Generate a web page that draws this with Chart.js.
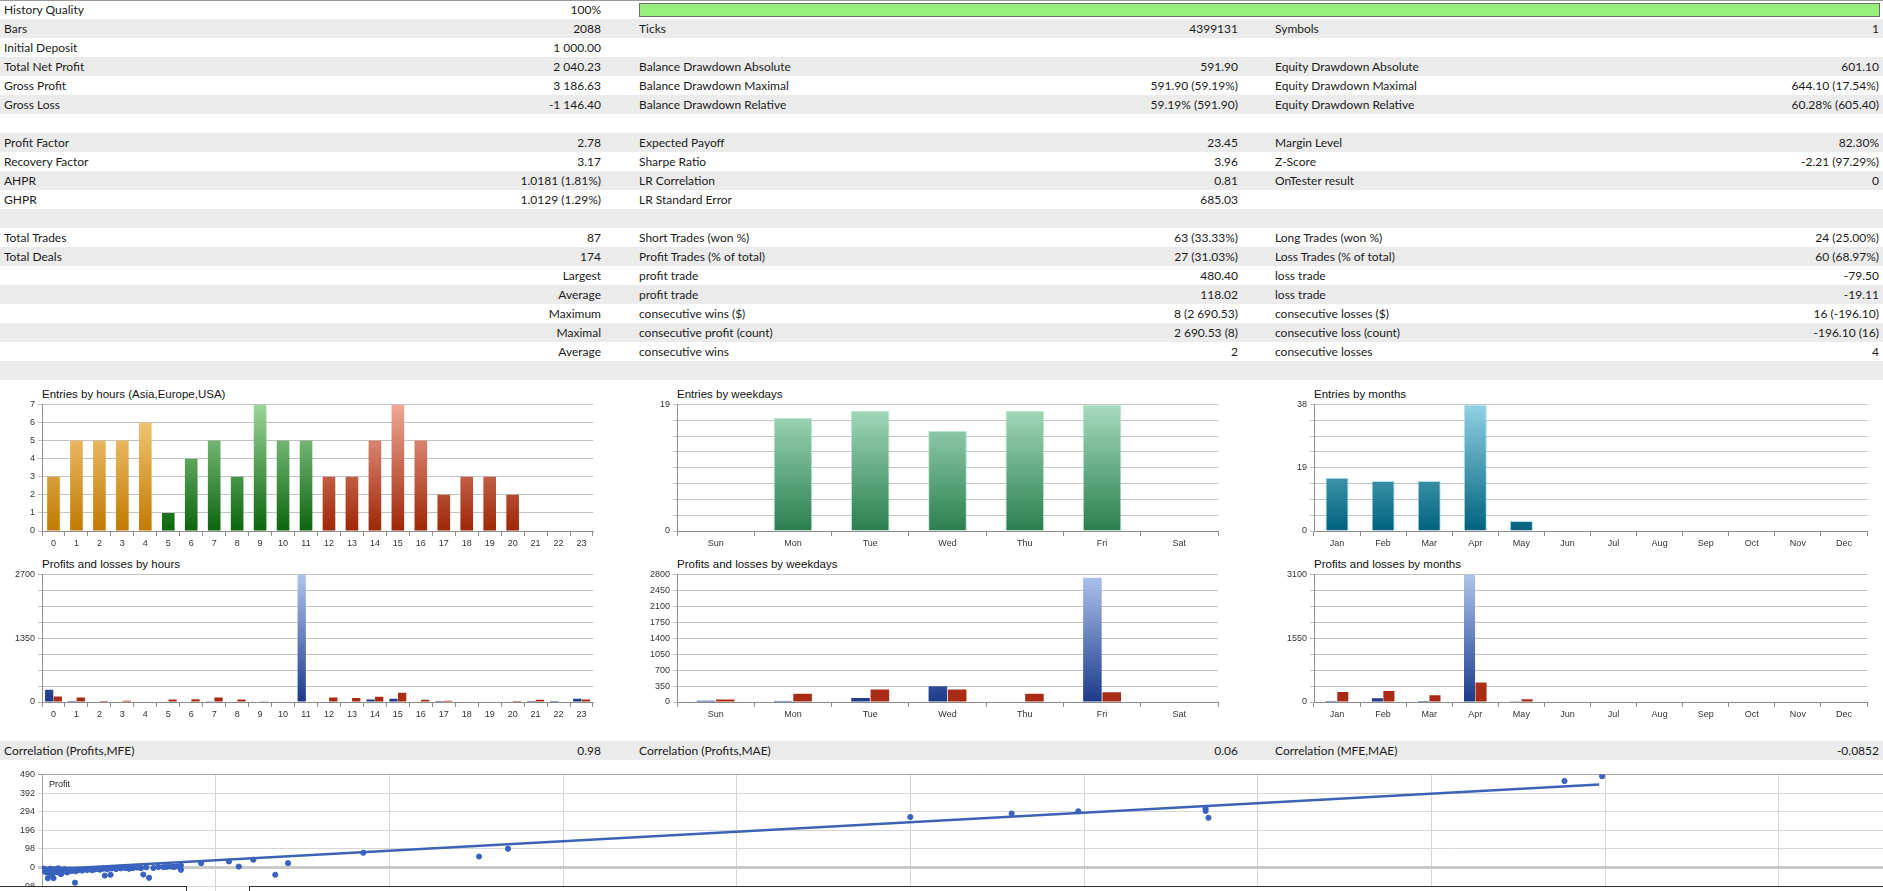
<!DOCTYPE html>
<html>
<head>
<meta charset="utf-8">
<script src="https://cdn.jsdelivr.net/npm/chart.js@4.4.1/dist/chart.umd.min.js"></script>
<style>
  html, body { margin: 0; padding: 0; background: #fff; overflow: hidden; }
  #page { position: relative; width: 1883px; height: 891px; overflow: hidden; font-family: Lato, "Noto Sans", sans-serif; font-size: 12px; color: #1b1b1b; }
  .row { position: absolute; left: 0; width: 1883px; height: 19px; line-height: 19px; }
  .row.alt { background: #ebebeb; }
  .row span { position: absolute; top: 0; white-space: nowrap; }
  .l1 { left: 4px; } .v1 { right: 1282px; text-align: right; }
  .l2 { left: 639px; } .v2 { right: 645px; text-align: right; }
  .l3 { left: 1275px; } .v3 { right: 4px; text-align: right; }
  .box { position: absolute; }
  .title { position: absolute; font-family: "Liberation Sans", Arial, sans-serif; font-size: 11.5px; color: #111; white-space: nowrap; }
  .cover { position: absolute; background: #fff; border: 1px solid #333; }
</style>
</head>
<body>
<div id="page">
  <div style="position:absolute;left:0;top:0;width:1883px;height:1px;background:#9a9a9a;z-index:2"></div>
  <div id="table"></div>

  <div class="title" style="left:42px;top:388px">Entries by hours (Asia,Europe,USA)</div>
  <div class="title" style="left:677px;top:388px">Entries by weekdays</div>
  <div class="title" style="left:1314px;top:388px">Entries by months</div>
  <div class="title" style="left:42px;top:558px">Profits and losses by hours</div>
  <div class="title" style="left:677px;top:558px">Profits and losses by weekdays</div>
  <div class="title" style="left:1314px;top:558px">Profits and losses by months</div>

  <div class="box" id="b1"><canvas id="c1"></canvas></div>
  <div class="box" id="b2"><canvas id="c2"></canvas></div>
  <div class="box" id="b3"><canvas id="c3"></canvas></div>
  <div class="box" id="b4"><canvas id="c4"></canvas></div>
  <div class="box" id="b5"><canvas id="c5"></canvas></div>
  <div class="box" id="b6"><canvas id="c6"></canvas></div>
  <div class="box" id="b7"><canvas id="c7"></canvas></div>
  <div class="title" style="left:49px;top:779px;font-size:9px;color:#222">Profit</div>

  <div class="cover" style="left:-1px;top:886px;width:186px;height:12px"></div>
  <div class="cover" style="left:249px;top:886px;width:1640px;height:12px"></div>
</div>

<script>
// === report text ===
const reportRows = [
  ['History Quality', '100%', '', '', '', ''],
  ['Bars', '2088', 'Ticks', '4399131', 'Symbols', '1'],
  ['Initial Deposit', '1 000.00', '', '', '', ''],
  ['Total Net Profit', '2 040.23', 'Balance Drawdown Absolute', '591.90', 'Equity Drawdown Absolute', '601.10'],
  ['Gross Profit', '3 186.63', 'Balance Drawdown Maximal', '591.90 (59.19%)', 'Equity Drawdown Maximal', '644.10 (17.54%)'],
  ['Gross Loss', '-1 146.40', 'Balance Drawdown Relative', '59.19% (591.90)', 'Equity Drawdown Relative', '60.28% (605.40)'],
  ['', '', '', '', '', ''],
  ['Profit Factor', '2.78', 'Expected Payoff', '23.45', 'Margin Level', '82.30%'],
  ['Recovery Factor', '3.17', 'Sharpe Ratio', '3.96', 'Z-Score', '-2.21 (97.29%)'],
  ['AHPR', '1.0181 (1.81%)', 'LR Correlation', '0.81', 'OnTester result', '0'],
  ['GHPR', '1.0129 (1.29%)', 'LR Standard Error', '685.03', '', ''],
  ['', '', '', '', '', ''],
  ['Total Trades', '87', 'Short Trades (won %)', '63 (33.33%)', 'Long Trades (won %)', '24 (25.00%)'],
  ['Total Deals', '174', 'Profit Trades (% of total)', '27 (31.03%)', 'Loss Trades (% of total)', '60 (68.97%)'],
  ['', 'Largest', 'profit trade', '480.40', 'loss trade', '-79.50'],
  ['', 'Average', 'profit trade', '118.02', 'loss trade', '-19.11'],
  ['', 'Maximum', 'consecutive wins ($)', '8 (2 690.53)', 'consecutive losses ($)', '16 (-196.10)'],
  ['', 'Maximal', 'consecutive profit (count)', '2 690.53 (8)', 'consecutive loss (count)', '-196.10 (16)'],
  ['', 'Average', 'consecutive wins', '2', 'consecutive losses', '4'],
  ['', '', '', '', '', '']
];
const correlationRow = ['Correlation (Profits,MFE)', '0.98', 'Correlation (Profits,MAE)', '0.06', 'Correlation (MFE,MAE)', '-0.0852'];

// === chart data ===
const hours = ['0','1','2','3','4','5','6','7','8','9','10','11','12','13','14','15','16','17','18','19','20','21','22','23'];
const hourEntries = [3, 5, 5, 5, 6, 1, 4, 5, 3, 7, 5, 5, 3, 3, 5, 7, 5, 2, 3, 3, 2, 0, 0, 0];
const hourProfits = [261, 20, 0, 0, 0, 0, 0, 15, 0, 0, 0, 2695, 0, 0, 55, 70, 0, 20, 0, 0, 0, 20, 20, 70];
const hourLosses  = [115, 95, 20, 25, 0, 55, 60, 95, 55, 15, 12, 0, 95, 85, 110, 195, 50, 25, 0, 12, 20, 50, 0, 55];

const weekdays = ['Sun', 'Mon', 'Tue', 'Wed', 'Thu', 'Fri', 'Sat'];
const weekdayEntries = [0, 17, 18, 15, 18, 19, 0];
const weekdayProfits = [30, 20, 90, 345, 10, 2725, 0];
const weekdayLosses  = [55, 180, 275, 275, 180, 215, 0];

const months = ['Jan', 'Feb', 'Mar', 'Apr', 'May', 'Jun', 'Jul', 'Aug', 'Sep', 'Oct', 'Nov', 'Dec'];
const monthEntries = [16, 15, 15, 38, 3, 0, 0, 0, 0, 0, 0, 0];
const monthProfits = [25, 90, 25, 3090, 20, 0, 0, 0, 0, 0, 0, 0];
const monthLosses  = [245, 270, 163, 473, 65, 0, 0, 0, 0, 0, 0, 0];

// axis maxima and labelled ticks
const hourEntryTicks = [0, 1, 2, 3, 4, 5, 6, 7];
const hourPLTicks = [0, 1350, 2700];
const weekdayEntryTicks = [0, 19];
const weekdayPLTicks = [0, 350, 700, 1050, 1400, 1750, 2100, 2450, 2800];
const monthEntryTicks = [0, 19, 38];
const monthPLTicks = [0, 1550, 3100];

// profit vs MFE scatter
const mfeValues = [539, 526, 403, 402, 402, 358, 335, 300, 161, 151, 111, 85, 80.6, 73, 68, 64.6, 55, 48, 48, 37, 35, 23.7, 21.7, 11.4, 4, 2,
  0.4, 0.7, 1.0, 1.3, 1.6, 1.9, 2.3, 2.6, 2.9, 3.2, 3.5, 3.8, 4.2, 4.6, 5.0, 5.3, 5.6, 6.0, 6.3, 6.7, 7.0, 7.4, 7.8, 8.2,
  8.7, 9.1, 9.6, 10.2, 10.8, 11.6, 12.4, 13.1, 13.9, 14.8, 15.6, 16.5, 17.3, 18.2, 19.1, 20.0, 21.2, 22.6, 24.1, 25.6,
  27.2, 28.8, 30.1, 31.5, 33.0, 34.2, 36.0, 38.5, 40.2, 42.0, 43.2, 44.5, 45.6, 46.8, 30.7, 6.5, 3.0];
const profitValues = [480.4, 455, 262, 298, 310, 296, 284, 266, 99, 58, 78, 23, -38, 41, 5, 32, 23, 11, -12, -54, -37, -38, -42, -79.5, -56, -56,
  -5, -14, -22, -9, -18, -27, -11, -20, -6, -24, -15, -30, -9, -19, -13, -25, -4, -17, -10, -31, -14, -21, -8, -12,
  -26, -15, -10, -18, -12, -20, -14, -11, -16, -9, -13, -8, -14, -10, -7, -11, -6, -9, -5, -8,
  -4, -3, -6, -2, 0, -3, 1, -2, 3, 2, 4, 5, 3, 6, -1, -35, -40];
const trendMfe = [0, 538];
const trendProfit = [-12, 437];
const scatterTicks = [-196, -98, 0, 98, 196, 294, 392, 490];

// === table ===
const table = document.getElementById('table');
function addRow(cells, i) {
  const row = document.createElement('div');
  row.className = 'row' + (i % 2 === 1 ? ' alt' : '');
  row.style.top = (19 * i) + 'px';
  ['l1', 'v1', 'l2', 'v2', 'l3', 'v3'].forEach((cls, k) => {
    if (!cells[k]) return;
    const s = document.createElement('span');
    s.className = cls;
    s.textContent = cells[k];
    row.appendChild(s);
  });
  table.appendChild(row);
}
reportRows.forEach(addRow);
addRow(correlationRow, 39);
const q = document.createElement('div');
q.style.cssText = 'position:absolute;left:639px;top:3px;width:1239px;height:12px;background:#97f07c;border:1px solid #6e6e6e';
table.appendChild(q);

// === charts ===
const tickFont = { family: '"Liberation Sans", Arial, sans-serif', size: 9 };
const AXIS_W = 42, PAD_T = 8, PAD_R = 8, XAX_H = 22;

function place(boxId, x0, x1, y0, y1) {
  const b = document.getElementById(boxId);
  b.style.left = (x0 - AXIS_W) + 'px';
  b.style.top = (y0 - PAD_T) + 'px';
  b.style.width = (x1 - x0 + AXIS_W + PAD_R) + 'px';
  b.style.height = (y1 - y0 + PAD_T + XAX_H) + 'px';
}

function gradient(top, bottom) {
  return (ctx) => {
    const chart = ctx.chart, area = chart.chartArea;
    if (!area) return bottom;
    const g = chart.ctx.createLinearGradient(0, area.top, 0, area.bottom);
    g.addColorStop(0, top);
    g.addColorStop(1, bottom);
    return g;
  };
}

function barOptions(max, labelled) {
  return {
    responsive: true,
    maintainAspectRatio: false,
    animation: false,
    layout: { padding: { top: PAD_T, right: PAD_R, left: 0, bottom: 0 } },
    plugins: { legend: { display: false }, tooltip: { enabled: false } },
    scales: {
      x: {
        grid: { offset: true, drawOnChartArea: false, tickLength: 5, color: '#8c8c8c' },
        border: { color: '#8c8c8c' },
        ticks: { font: tickFont, color: '#333', padding: 2, maxRotation: 0, autoSkip: false },
        afterFit: (s) => { s.height = XAX_H; }
      },
      y: {
        min: 0, max: max,
        grid: { color: '#c2c2c2', tickLength: 4, lineWidth: 1 },
        border: { color: '#8c8c8c' },
        ticks: {
          font: tickFont, color: '#333', padding: 3,
          callback: (v) => labelled.includes(v) ? String(v) : ''
        },
        afterBuildTicks: (s) => {
          const steps = labelled.length === 8 ? 7 : 8;
          const out = [];
          for (let i = 0; i <= steps; i++) out.push({ value: max * i / steps });
          s.ticks = out;
        },
        afterFit: (s) => { s.width = AXIS_W; }
      }
    }
  };
}

// entries by hours
const sessionColors = [
  ['#f7cf86', '#c27a00'],   // Asia
  ['#9bd69b', '#0b650b'],   // Europe
  ['#f0a898', '#9e2606']    // USA
];
function sessionOf(i) { return i < 5 ? 0 : (i < 12 ? 1 : 2); }

place('b1', 42, 593, 404, 531);
new Chart(document.getElementById('c1'), {
  type: 'bar',
  data: {
    labels: hours,
    datasets: [{
      data: hourEntries,
      backgroundColor: (ctx) => {
        const c = sessionColors[sessionOf(ctx.dataIndex)];
        return gradient(c[0], c[1])(ctx);
      },
      categoryPercentage: 1, barPercentage: 0.55
    }]
  },
  options: barOptions(7, hourEntryTicks)
});

function plBars(boxId, canvasId, labels, profits, losses, max, ticks, pct, x0, x1) {
  place(boxId, x0, x1, 574, 702);
  new Chart(document.getElementById(canvasId), {
    type: 'bar',
    data: {
      labels: labels,
      datasets: [
        { data: profits, backgroundColor: gradient('#aec4ee', '#1c3a8a'), categoryPercentage: pct, barPercentage: 0.96 },
        { data: losses, backgroundColor: gradient('#cc5038', '#a82a12'), categoryPercentage: pct, barPercentage: 0.96 }
      ]
    },
    options: barOptions(max, ticks)
  });
}

function entryBars(boxId, canvasId, labels, values, max, ticks, top, bottom, edge, x0, x1) {
  place(boxId, x0, x1, 404, 531);
  new Chart(document.getElementById(canvasId), {
    type: 'bar',
    data: {
      labels: labels,
      datasets: [{ data: values, backgroundColor: gradient(top, bottom), borderColor: edge, borderWidth: 1, categoryPercentage: 1, barPercentage: 0.5 }]
    },
    options: barOptions(max, ticks)
  });
}

plBars('b2', 'c2', hours, hourProfits, hourLosses, 2700, hourPLTicks, 0.75, 42, 593);
entryBars('b3', 'c3', weekdays, weekdayEntries, 19, weekdayEntryTicks, '#a6dcbe', '#2b7e4f', '#b8e8cc', 677, 1218);
plBars('b4', 'c4', weekdays, weekdayProfits, weekdayLosses, 2800, weekdayPLTicks, 0.5, 677, 1218);
entryBars('b5', 'c5', months, monthEntries, 38, monthEntryTicks, '#92d2e4', '#00627e', '#a8e4f0', 1314, 1867);
plBars('b6', 'c6', months, monthProfits, monthLosses, 3100, monthPLTicks, 0.5, 1314, 1867);

// === profit / MFE scatter ===
const PX_PER_60 = 174;
const sxMax = 650;
const sb = document.getElementById('b7');
sb.style.left = '0px';
sb.style.top = (774 - PAD_T) + 'px';
sb.style.width = (AXIS_W + sxMax / 60 * PX_PER_60) + 'px';
sb.style.height = (PAD_T + 93 / 490 * 686 + 9) + 'px';

new Chart(document.getElementById('c7'), {
  type: 'scatter',
  data: {
    datasets: [
      {
        data: mfeValues.map((m, i) => ({ x: m, y: profitValues[i] })),
        backgroundColor: '#3a62bf', borderColor: '#3a62bf', pointRadius: 2.6, pointHoverRadius: 2.6
      },
      {
        type: 'line',
        data: trendMfe.map((m, i) => ({ x: m, y: trendProfit[i] })),
        borderColor: '#3d63b5', borderWidth: 2.5, pointRadius: 0, fill: false
      }
    ]
  },
  options: {
    responsive: true,
    maintainAspectRatio: false,
    animation: false,
    layout: { padding: { top: PAD_T, right: 0, left: 0, bottom: 0 } },
    plugins: { legend: { display: false }, tooltip: { enabled: false } },
    scales: {
      x: {
        type: 'linear', min: 0, max: sxMax,
        ticks: { stepSize: 60, display: false },
        grid: { color: '#d6d6d6', drawTicks: false },
        border: { display: false },
        afterFit: (s) => { s.height = 0; }
      },
      y: {
        min: -196, max: 490,
        afterBuildTicks: (s) => { s.ticks = scatterTicks.map(v => ({ value: v })); },
        ticks: { font: tickFont, color: '#333', padding: 3 },
        grid: {
          tickLength: 4,
          color: (c) => c.tick && c.tick.value === 0 ? '#cacaca' : (c.tick && c.tick.value === 490 ? '#a8a8a8' : '#d6d6d6'),
          lineWidth: (c) => c.tick && c.tick.value === 0 ? 3 : 1
        },
        border: { color: '#a8a8a8' },
        afterFit: (s) => { s.width = AXIS_W; }
      }
    }
  }
});
</script>
</body>
</html>
